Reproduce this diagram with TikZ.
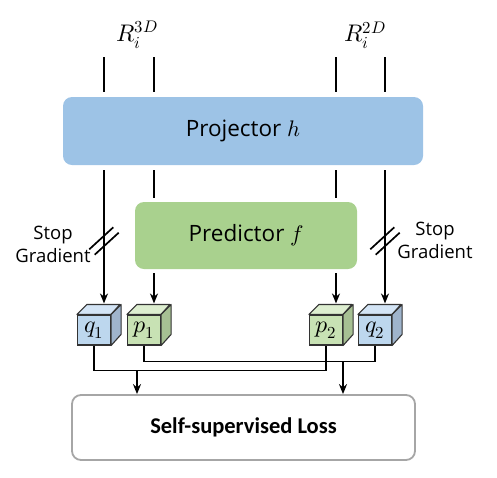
\documentclass[tikz,border=0pt]{standalone}
\usepackage{fontspec}
\usepackage{unicode-math}
\setmainfont{Open Sans}
\setmathfont{Latin Modern Math}
\newfontfamily\lossfont{Carlito}
\usetikzlibrary{arrows.meta}
\definecolor{projblue}{HTML}{9DC3E6}
\definecolor{predgreen}{HTML}{A9D18E}
\definecolor{qfront}{HTML}{BDD7EE}
\definecolor{qtop}{HTML}{D3E4F5}
\definecolor{qside}{HTML}{9FB4CC}
\definecolor{pfront}{HTML}{C8E2B4}
\definecolor{ptop}{HTML}{DDEED0}
\definecolor{pside}{HTML}{A6C093}
\definecolor{lossgray}{HTML}{A6A6A6}
\tikzset{
  block/.style={rectangle, rounded corners=9pt, inner sep=0pt, font=\fontsize{22.5}{26}\selectfont},
  cube/.style={rectangle, draw=black!80, line width=1.1pt, minimum width=33pt, minimum height=30pt, inner sep=0pt, font=\fontsize{24}{26}\selectfont},
  link/.style={line width=1.7pt},
  arr/.style={link, -{Stealth[length=10pt, width=8pt]}},
  sglabel/.style={align=center, font=\fontsize{18.5}{23}\selectfont},
  inlabel/.style={font=\fontsize{24}{26}\selectfont}
}
\begin{document}
\begin{tikzpicture}[x=1pt, y=-1pt]
  \useasboundingbox (0,0) rectangle (497,477);
  % Main blocks
  \node[block, fill=projblue, minimum width=360pt, minimum height=68pt] (proj) at (243,131) {Projector $h$};
  \node[block, fill=predgreen, minimum width=222pt, minimum height=67pt] (pred) at (246,235.5) {Predictor $f$};
  \node[block, draw=lossgray, line width=1.8pt, fill=white, minimum width=343pt, minimum height=65pt, font=\lossfont\bfseries\fontsize{22.5}{26}\selectfont] (loss) at (243.5,427.5) {Self-supervised Loss};
  % Embedding cubes
  \foreach \n/\x/\c/\t in {q1/94/q/q_1, p1/144/p/p_1, p2/326/p/p_2, q2/375/q/q_2} {
    \node[cube, fill=\c front] (\n) at (\x,330) {$\t$};
    \filldraw[\c top, draw=black!80, line width=1.1pt, line join=round] (\n.north west) -- ++(10,-10) -- ++(33,0) -- (\n.north east) -- cycle;
    \filldraw[\c side, draw=black!80, line width=1.1pt, line join=round] (\n.north east) -- ++(10,-10) -- ++(0,30) -- (\n.south east) -- cycle;
    \coordinate (top-\n) at ([shift={(10,-11)}]\n.north);
  }
  % Inputs
  \node[inlabel] (r3d) at (137,35) {$R_i^{3D}$};
  \node[inlabel] (r2d) at (365,35) {$R_i^{2D}$};
  \foreach \n in {q1, p1, p2, q2} {
    \coordinate (in-\n) at (top-\n |- 0,57);
    \draw[link, shorten >=5pt] (in-\n) -- (in-\n |- proj.north);
  }
  % Projector to cubes
  \draw[arr, shorten <=5pt] (in-q1 |- proj.south) -- (top-q1);
  \draw[arr, shorten <=5pt] (in-q2 |- proj.south) -- (top-q2);
  \draw[link, shorten <=5pt, shorten >=4pt] (in-p1 |- proj.south) -- (in-p1 |- pred.north);
  \draw[link, shorten <=5pt, shorten >=4pt] (in-p2 |- proj.south) -- (in-p2 |- pred.north);
  \draw[arr, shorten <=4pt] (in-p1 |- pred.south) -- (top-p1);
  \draw[arr, shorten <=4pt] (in-p2 |- pred.south) -- (top-p2);
  % Stop gradient marks
  \foreach \n in {q1, q2} {
    \foreach \s in {-2.7, 2.7} {
      \draw[line width=1.7pt] ([shift={(-12+\s,11+\s)}]in-\n |- 0,241) -- ++(24,-22);
    }
  }
  \node[sglabel] (sgl) at (53,244) {Stop\\Gradient};
  \node[sglabel] (sgr) at (435,240) {Stop\\Gradient};
  % Pairs to loss
  \draw[link] (q1.south) -- ++(0,25) -| (p2.south);
  \draw[link] (p1.south) -- ++(0,16) -| (q2.south);
  \coordinate (ja) at (137,370);
  \coordinate (jb) at (343,361);
  \draw[arr] (ja) -- (ja |- loss.north);
  \draw[arr] (jb) -- (jb |- loss.north);
\end{tikzpicture}
\end{document}
